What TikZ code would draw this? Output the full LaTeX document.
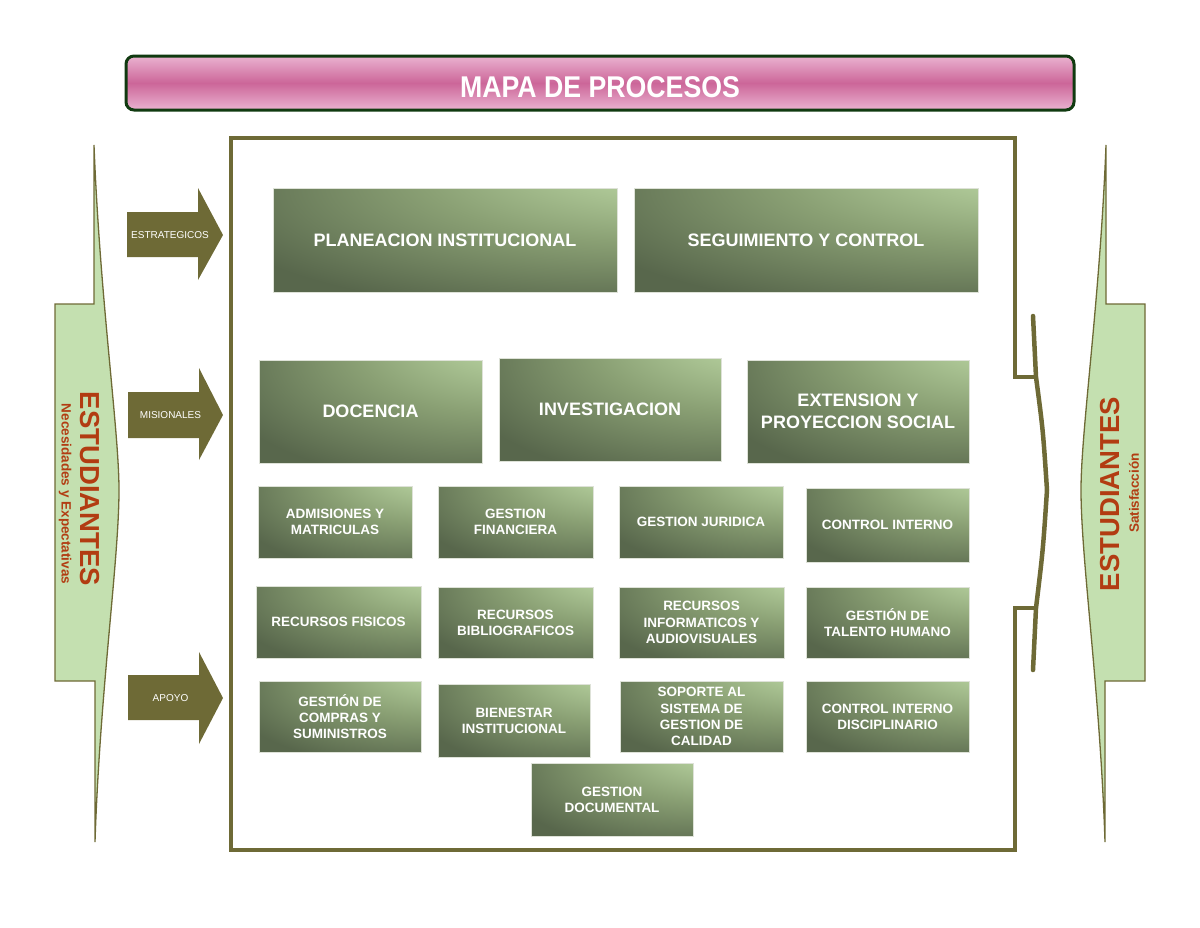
\documentclass[tikz,border=0pt]{standalone}
\usepackage{fontspec}
\setmainfont{Liberation Sans}
\usepackage{graphicx}
\definecolor{olive2}{RGB}{110,106,54}
\definecolor{lightg}{RGB}{196,224,176}
\definecolor{boxlight}{RGB}{194,222,170}
\definecolor{boxmid}{RGB}{138,160,116}
\definecolor{boxdark}{RGB}{88,103,76}
\definecolor{estred}{RGB}{178,60,18}
\definecolor{pinkl}{RGB}{234,178,208}
\definecolor{pinkm}{RGB}{204,102,153}
\definecolor{titlebd}{RGB}{16,58,16}
\definecolor{boxbd}{RGB}{222,226,216}
\pgfdeclareradialshading{boxshade}{\pgfpoint{42bp}{46bp}}{color(0bp)=(boxlight); color(8bp)=(boxlight); color(32bp)=(boxmid); color(55bp)=(boxdark); color(100bp)=(boxdark)}
\tikzset{
  proc/.style={rectangle, shading=boxshade, draw=boxbd, line width=0.6pt, text=white, align=center, inner sep=0pt, font=\bfseries\fontsize{13.5}{16.3}\selectfont},
  bigproc/.style={proc, font=\bfseries\fontsize{18}{22}\selectfont},
  sidearrow/.style={fill=olive2, draw=none},
  arrowlbl/.style={text=white, font=\fontsize{10}{12}\selectfont, inner sep=0pt},
  sideshape/.style={fill=lightg, draw=olive2, line width=1.3pt, line join=miter},
  estud/.style={text=estred, font=\bfseries\fontsize{27.5}{30}\selectfont, inner sep=0pt},
  estsub/.style={text=estred, font=\bfseries\fontsize{13.5}{15}\selectfont, inner sep=0pt},
  framebd/.style={draw=olive2, line width=4pt, line join=miter},
  bracebd/.style={draw=olive2, line width=4.5pt, line cap=round, line join=round},
  titlebox/.style={draw=titlebd, line width=3pt, rounded corners=8pt, top color=pinkl, bottom color=pinkl, middle color=pinkm},
  titletext/.style={text=white, font=\bfseries\fontsize{30}{32}\selectfont, inner sep=0pt}
}
\begin{document}
\begin{tikzpicture}[x=1pt,y=-1pt]
\useasboundingbox (0,0) rectangle (1200,927);

% title
\node[titlebox, minimum width=948pt, minimum height=54pt] (title) at (600,83) {};
\node[titletext] (titlet) at (600,87) {\scalebox{0.89}[1]{MAPA DE PROCESOS}};

% left students shape
\path[sideshape] (94,145) -- (94,304) -- (55,304) -- (55,681) -- (95,681) -- (95,842)
  .. controls (100,690) and (119,560) .. (119,490)
  .. controls (119,430) and (100,300) .. (94,145) -- cycle;
\node[estud, rotate=-90] (estL) at (90,489) {ESTUDIANTES};
\node[estsub, rotate=-90] (necL) at (65,494) {Necesidades y Expectativas};

% right students shape
\path[sideshape] (1106,145) -- (1106,304) -- (1145,304) -- (1145,681) -- (1105,681) -- (1105,842)
  .. controls (1100,690) and (1081,560) .. (1081,490)
  .. controls (1081,430) and (1100,300) .. (1106,145) -- cycle;
\node[estud, rotate=90] (estR) at (1110,494) {ESTUDIANTES};
\node[estsub, rotate=90] (satR) at (1134,493) {Satisfacción};

% side arrows
\path[sidearrow] (127,212) -- (198,212) -- (198,188) -- (223,235) -- (198,280) -- (198,257) -- (127,257) -- cycle;
\node[arrowlbl] (lest) at (170,235) {ESTRATEGICOS};
\path[sidearrow] (128,392) -- (199,392) -- (199,368) -- (223,415) -- (199,460) -- (199,438) -- (128,438) -- cycle;
\node[arrowlbl] (lmis) at (170.5,415) {MISIONALES};
\path[sidearrow] (128,675) -- (199,675) -- (199,652) -- (223,698) -- (199,744) -- (199,720) -- (128,720) -- cycle;
\node[arrowlbl] (lapo) at (170.5,698) {APOYO};

% frame
\draw[framebd] (1036,377) -- (1015,377) -- (1015,138) -- (231,138) -- (231,850) -- (1015,850) -- (1015,608) -- (1036,608);
\draw[bracebd] (1033,316) -- (1036,377) .. controls (1043,430) .. (1047,490) .. controls (1043,550) .. (1036,608) -- (1033,670);

% strategic
\node[bigproc, minimum width=344pt, minimum height=104pt] (plan) at (445,240) {PLANEACION INSTITUCIONAL};
\node[bigproc, minimum width=344pt, minimum height=104pt] (seg) at (806,240) {SEGUIMIENTO Y CONTROL};
% missional
\node[bigproc, minimum width=223pt, minimum height=103pt] (doc) at (370.5,411.5) {DOCENCIA};
\node[bigproc, minimum width=222pt, minimum height=103pt] (inv) at (610,409.5) {INVESTIGACION};
\node[bigproc, minimum width=222pt, minimum height=103pt] (ext) at (858,411.5) {EXTENSION Y\\PROYECCION SOCIAL};
% support
\node[proc, minimum width=154pt, minimum height=72pt] (adm) at (335,522) {ADMISIONES Y\\MATRICULAS};
\node[proc, minimum width=155pt, minimum height=72pt] (fin) at (515.5,522) {GESTION\\FINANCIERA};
\node[proc, minimum width=164pt, minimum height=72pt] (jur) at (701,522) {GESTION JURIDICA};
\node[proc, minimum width=163pt, minimum height=74pt] (ci) at (887.5,525) {CONTROL INTERNO};
\node[proc, minimum width=165pt, minimum height=72pt] (rf) at (338.5,622) {RECURSOS FISICOS};
\node[proc, minimum width=155pt, minimum height=71pt] (rb) at (515.5,622.5) {RECURSOS\\BIBLIOGRAFICOS};
\node[proc, minimum width=165pt, minimum height=71pt] (ri) at (701.5,622.5) {RECURSOS\\INFORMATICOS Y\\AUDIOVISUALES};
\node[proc, minimum width=163pt, minimum height=71pt] (gth) at (887.5,622.5) {GESTIÓN DE\\TALENTO HUMANO};
\node[proc, minimum width=162pt, minimum height=71pt] (gc) at (340,716.5) {GESTIÓN DE\\COMPRAS Y\\SUMINISTROS};
\node[proc, minimum width=152pt, minimum height=73pt] (bi) at (514,720.5) {BIENESTAR\\INSTITUCIONAL};
\node[proc, minimum width=163pt, minimum height=71pt] (sop) at (701.5,716.5) {SOPORTE AL\\SISTEMA DE\\GESTION DE\\CALIDAD};
\node[proc, minimum width=163pt, minimum height=71pt] (cid) at (887.5,716.5) {CONTROL INTERNO\\DISCIPLINARIO};
\node[proc, minimum width=162pt, minimum height=73pt] (gd) at (612,799.5) {GESTION\\DOCUMENTAL};
\end{tikzpicture}
\end{document}
